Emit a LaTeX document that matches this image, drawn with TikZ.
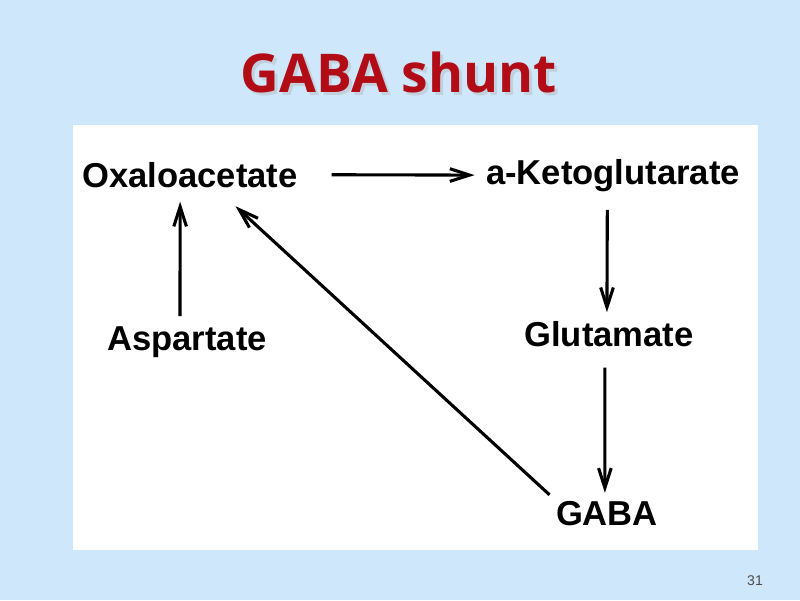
\documentclass[tikz,border=0pt]{standalone}
\usepackage{fontspec}
\setmainfont{Liberation Sans}
\newfontfamily\titlefont{Open Sans}
\usetikzlibrary{arrows.meta,positioning}
\definecolor{slideblue}{RGB}{206,231,251}
\definecolor{titlered}{RGB}{178,12,22}

\begin{document}
\begin{tikzpicture}[x=0.025cm,y=-0.025cm]
            \tikzstyle{state}=[inner sep=0pt,anchor=base,font=\fontsize{24.6}{28}\selectfont\bfseries]
            \tikzstyle{title}=[inner sep=0pt,anchor=base,font=\titlefont\fontsize{38}{44}\selectfont\bfseries]

            \tikzstyle{every edge}=[line width=2.2pt,draw,-{Straight Barb[length=14pt,width=9pt]}]

            \fill[slideblue] (0,0) rectangle (800,600);
            \fill[white] (73,125) rectangle (758,550);    % panel

            \node[title,text=black!30,opacity=0.4] (t0) at (402,95) {GABA shunt};    % shadow
            \node[title,text=titlered] (t) at (399,92) {GABA shunt};

            \node[state] (0) at (190,187) {Oxaloacetate};
            \node[state] (1) at (613,184) {a-Ketoglutarate};
            \node[state] (2) at (187,350) {Aspartate};
            \node[state] (3) at (609,346) {Glutamate};
            \node[state] (4) at (607,525) {GABA};

            \node[font=\fontsize{10}{12}\selectfont,text=black!70] (n) at (755,581) {31};

            \path (0.east) edge[shorten <=24pt,shorten >=8pt] (1.west);
            \path ([xshift=-5pt]2.north) edge[shorten <=7pt,shorten >=10pt] ([xshift=-7pt]0.south);
            \path ([xshift=-4pt]1.south) edge[shorten <=13pt,shorten >=6pt] ([xshift=-1.5pt]3.north);
            \path ([xshift=-3pt]3.south) edge[shorten <=15pt,shorten >=5.5pt] ([xshift=-1.5pt]4.north);
            \path (4.north west) edge[shorten <=6pt,shorten >=19.5pt] ([xshift=18pt]0.south);
        \end{tikzpicture}
\end{document}
